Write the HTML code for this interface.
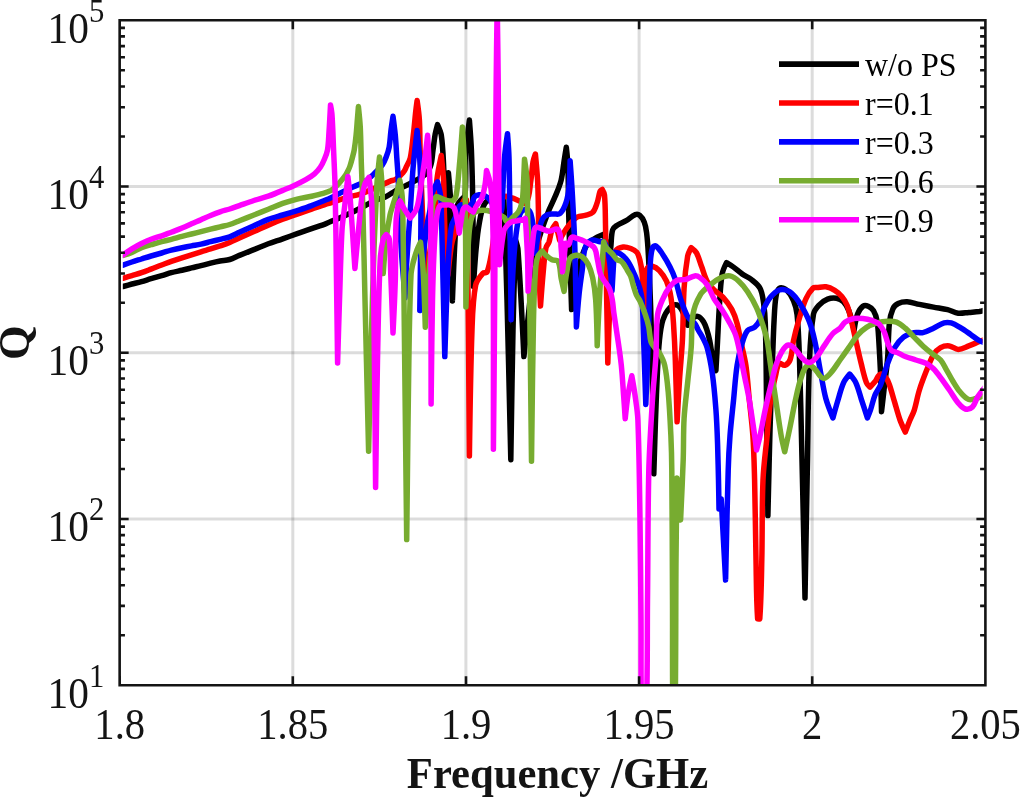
<!DOCTYPE html>
<html><head><meta charset="utf-8"><title>Q vs Frequency</title>
<style>
html,body{margin:0;padding:0;background:#fff;}
body{width:1020px;height:797px;overflow:hidden;}
svg{display:block;}
text{font-family:"Liberation Serif","Times New Roman",serif;}
</style></head><body>
<svg width="1020" height="797" viewBox="0 0 1020 797">
<rect x="0" y="0" width="1020" height="797" fill="#fff"/>
<defs><clipPath id="ax"><rect x="122.8" y="20.3" width="859.8" height="664.95"/></clipPath></defs>

<path d="M292.8,20.3 V685.25 M465.9,20.3 V685.25 M639.1,20.3 V685.25 M812.2,20.3 V685.25" stroke="#262626" stroke-opacity="0.16" stroke-width="3" fill="none"/>
<path d="M119.65,519.0 H985.4 M119.65,352.8 H985.4 M119.65,186.5 H985.4" stroke="#262626" stroke-opacity="0.16" stroke-width="3" fill="none"/>
<g clip-path="url(#ax)" fill="none" stroke-width="5.5" stroke-linejoin="round" stroke-linecap="round">
<path d="M123.0,286.5 C123.0,286.5 129.0,284.8 131.9,284.0 C135.1,283.2 138.4,282.5 141.5,281.6 C144.7,280.7 147.9,279.6 151.0,278.7 C154.5,277.7 158.2,276.7 161.7,275.7 C164.9,274.8 168.1,273.6 171.3,272.7 C174.8,271.8 178.5,271.1 182.0,270.3 C185.1,269.6 188.4,268.7 191.5,267.9 C194.6,267.1 197.9,266.4 201.0,265.6 C204.2,264.8 207.4,264.0 210.6,263.2 C213.7,262.4 216.9,261.6 220.1,261.0 C223.2,260.4 226.6,260.4 229.7,259.5 C233.0,258.5 236.2,256.7 239.4,255.4 C244.2,253.4 249.1,251.5 253.9,249.6 C258.7,247.7 263.5,245.6 268.3,243.8 C273.0,242.0 278.0,240.5 282.7,238.8 C287.5,237.1 292.4,235.4 297.2,233.7 C301.9,232.0 306.9,230.4 311.6,228.7 C316.4,227.0 321.4,225.4 326.1,223.6 C328.0,222.9 329.9,221.8 331.8,221.0 C334.5,219.9 337.4,218.9 340.1,217.7 C343.4,216.3 346.8,214.8 350.1,213.2 C354.1,211.3 358.2,209.2 362.2,207.2 C366.5,205.0 370.7,202.2 375.2,200.2 C378.4,198.8 382.1,198.6 385.3,197.1 C388.8,195.5 391.9,192.8 395.3,190.9 C400.2,188.2 405.4,186.0 410.3,183.3 C415.4,180.5 421.0,178.1 425.4,174.3 C428.0,172.0 429.8,168.6 430.8,165.3 C432.3,160.5 432.3,155.2 433.0,150.2 C433.8,144.9 434.3,139.3 435.2,134.0 C435.8,130.9 437.5,124.6 437.5,124.6 C437.5,124.6 440.7,131.5 441.3,135.2 C442.8,145.1 443.1,155.4 443.6,165.3 C444.1,175.2 444.0,185.5 444.3,195.4 C444.7,210.1 445.0,225.3 445.5,240.0 C445.6,243.3 446.3,250.0 446.3,250.0 C446.3,250.0 446.1,213.4 446.6,195.4 C446.8,187.9 448.4,172.8 448.4,172.8 C448.4,172.8 449.8,187.9 450.3,195.4 C450.6,200.2 451.0,205.2 451.1,210.0 C451.7,240.0 452.4,300.9 452.4,300.9 C452.4,300.9 453.9,260.1 455.0,240.0 C455.6,228.4 455.8,216.5 457.5,205.0 C457.8,203.0 459.8,201.6 461.0,200.0 C462.3,198.3 464.8,197.1 465.0,195.0 C466.5,180.3 465.2,165.0 466.1,150.2 C466.7,140.2 469.4,120.1 469.4,120.1 C469.4,120.1 471.0,140.3 471.4,150.2 C472.2,169.9 472.6,190.3 472.9,210.0 C473.3,235.3 473.4,286.6 473.4,286.6 C473.4,286.6 474.9,262.1 476.0,250.0 C476.8,241.7 477.5,233.2 479.0,225.0 C480.2,218.3 481.0,211.1 484.0,205.0 C485.5,201.8 488.8,199.4 492.0,198.0 C495.6,196.4 503.8,196.4 503.8,196.4 C503.8,196.4 506.1,265.8 507.0,300.0 C508.4,352.7 510.8,459.8 510.8,459.8 C510.8,459.8 512.1,372.8 513.0,330.0 C513.6,300.3 515.5,240.0 515.5,240.0 C515.5,240.0 517.8,246.6 518.0,250.0 C520.5,285.1 523.9,356.6 523.9,356.6 C523.9,356.6 527.9,318.7 530.0,300.0 C531.9,283.5 533.3,266.4 536.0,250.0 C537.0,243.9 539.1,237.9 541.0,232.0 C543.4,224.7 546.2,217.2 549.0,210.1 C550.8,205.6 553.3,201.1 555.1,196.6 C557.3,191.3 559.7,185.9 561.1,180.3 C562.7,174.0 563.1,167.2 564.1,160.8 C564.8,156.3 566.3,147.2 566.3,147.2 C566.3,147.2 567.7,159.3 567.9,165.3 C568.4,180.0 568.3,195.3 568.6,210.0 C569.0,226.5 569.5,243.5 570.0,260.0 C570.5,276.4 571.6,309.6 571.6,309.6 C571.6,309.6 574.1,289.7 576.0,280.0 C577.6,271.8 579.6,263.3 582.2,255.3 C583.6,251.1 585.4,246.6 588.2,243.2 C590.5,240.5 594.1,239.0 597.2,237.2 C599.2,236.0 603.7,234.2 603.7,234.2 C603.7,234.2 606.2,241.4 607.0,245.0 C608.2,250.6 609.5,262.0 609.5,262.0 C609.5,262.0 610.4,250.6 611.0,245.0 C611.5,239.9 611.2,234.5 612.7,229.7 C613.3,227.7 615.5,226.4 617.2,225.2 C620.0,223.4 623.3,222.4 626.2,220.7 C629.3,218.9 631.9,215.9 635.3,214.6 C636.7,214.1 638.6,214.4 639.8,215.4 C641.9,217.1 643.3,219.7 644.3,222.2 C645.6,225.5 646.2,229.2 646.6,232.7 C647.5,240.1 648.0,247.8 648.4,255.3 C649.3,272.0 650.0,289.2 650.6,305.9 C651.0,317.3 651.3,329.1 651.5,340.6 C652.1,366.8 652.5,393.8 653.0,420.0 C653.3,437.8 653.8,473.8 653.8,473.8 C653.8,473.8 654.9,437.8 655.5,420.0 C656.1,403.5 656.7,386.5 657.5,370.0 C658.0,360.3 658.4,350.3 659.4,340.6 C660.1,333.7 660.8,326.6 662.9,320.0 C664.3,315.5 666.8,311.0 670.0,307.6 C671.7,305.8 674.7,304.3 677.1,305.0 C679.7,305.8 681.2,308.8 682.4,311.2 C684.7,315.6 687.6,325.3 687.6,325.3 C687.6,325.3 690.7,320.1 692.9,318.2 C694.3,317.0 696.5,315.9 698.2,316.5 C700.5,317.3 702.2,319.7 703.5,321.8 C705.2,324.5 706.1,327.6 707.1,330.6 C708.2,333.8 709.0,337.3 709.7,340.6 C711.0,347.0 711.7,353.6 713.0,360.0 C713.7,363.6 715.9,370.6 715.9,370.6 C715.9,370.6 717.1,350.1 717.6,340.0 C718.2,328.7 718.6,317.1 719.4,305.9 C720.1,295.4 720.4,284.5 722.1,274.1 C722.8,270.1 726.5,262.6 726.5,262.6 C726.5,262.6 731.3,265.5 733.5,267.1 C736.5,269.3 739.3,272.0 742.4,274.1 C745.2,276.0 748.6,277.3 751.2,279.4 C754.4,282.0 758.1,284.6 760.0,288.2 C762.3,292.4 762.8,297.6 763.5,302.3 C764.5,309.2 765.1,316.5 765.3,323.5 C766.1,348.7 766.2,374.8 766.5,400.0 C767.0,438.1 767.9,515.6 767.9,515.6 C767.9,515.6 769.2,458.2 770.0,430.0 C770.7,406.9 771.6,383.1 772.5,360.0 C773.0,346.8 773.4,333.2 774.1,320.0 C774.5,312.4 774.7,304.6 775.9,297.1 C776.4,294.0 776.8,290.0 779.4,288.2 C781.4,286.9 784.7,288.4 786.5,290.0 C789.6,292.8 791.8,296.7 793.5,300.6 C795.4,305.0 796.6,309.9 797.1,314.7 C798.6,329.6 799.0,345.0 799.5,360.0 C800.6,393.0 801.2,427.0 802.0,460.0 C803.1,505.5 805.0,598.0 805.0,598.0 C805.0,598.0 806.6,505.5 807.5,460.0 C808.1,427.0 808.1,393.0 809.5,360.0 C810.1,344.8 811.0,329.1 813.5,314.1 C814.1,310.8 816.5,307.8 818.8,305.3 C821.2,302.7 824.3,300.4 827.6,299.1 C830.3,298.0 833.6,297.7 836.5,298.2 C839.1,298.6 841.7,300.0 843.5,301.8 C845.9,304.2 847.5,307.5 848.8,310.6 C850.4,314.5 851.3,318.8 852.4,322.9 C853.0,325.2 854.1,330.0 854.1,330.0 C854.1,330.0 855.7,319.1 857.6,314.1 C858.7,311.2 860.4,308.1 862.9,306.2 C864.3,305.2 866.6,305.5 868.2,306.2 C870.3,307.1 872.3,308.6 873.5,310.6 C875.4,313.8 876.5,317.6 877.1,321.2 C878.2,327.5 878.4,334.2 878.8,340.6 C879.5,352.2 880.2,364.2 880.6,375.9 C881.0,387.7 881.5,411.8 881.5,411.8 C881.5,411.8 883.2,397.2 884.0,390.0 C885.2,379.5 886.8,368.7 887.6,358.2 C888.5,346.6 888.2,334.5 889.4,322.9 C889.9,318.1 890.9,313.2 892.9,308.8 C893.9,306.5 896.0,304.6 898.2,303.5 C900.9,302.2 904.1,301.7 907.1,301.8 C911.2,302.0 915.3,303.6 919.4,304.4 C924.0,305.3 928.8,306.2 933.5,307.1 C938.2,308.0 943.0,308.6 947.6,309.7 C951.2,310.6 954.5,312.7 958.2,313.2 C961.7,313.6 965.3,312.7 968.8,312.4 C972.3,312.1 975.9,312.0 979.4,311.5 C981.6,311.1 986.0,309.7 986.0,309.7" stroke="#000000"/>
<path d="M123.0,278.3 C123.0,278.3 129.0,276.6 131.9,275.7 C135.1,274.7 138.4,273.8 141.5,272.7 C144.7,271.6 147.9,270.3 151.0,269.1 C154.5,267.8 158.2,266.3 161.7,265.0 C164.9,263.8 168.1,262.5 171.3,261.4 C174.8,260.2 178.5,259.0 182.0,257.8 C185.1,256.8 188.4,255.8 191.5,254.8 C194.6,253.8 197.9,252.8 201.0,251.8 C204.2,250.8 207.4,249.9 210.6,248.9 C213.7,247.9 217.0,246.9 220.1,245.9 C223.3,244.8 226.6,243.8 229.7,242.5 C233.0,241.2 236.2,239.5 239.4,238.1 C244.2,235.9 249.1,233.8 253.9,231.6 C258.7,229.5 263.5,227.1 268.3,225.1 C273.0,223.1 277.9,221.1 282.7,219.3 C287.4,217.5 292.4,215.9 297.2,214.2 C301.9,212.5 306.9,210.9 311.6,209.2 C316.4,207.5 321.3,205.7 326.1,204.1 C327.4,203.7 328.7,203.6 330.0,203.2 C333.4,202.1 336.7,200.8 340.1,199.7 C343.4,198.6 346.8,197.5 350.1,196.6 C353.4,195.7 356.9,195.2 360.2,194.1 C363.6,193.0 366.9,191.5 370.2,190.1 C373.5,188.7 376.9,187.1 380.2,185.6 C383.5,184.1 386.9,182.5 390.3,181.1 C391.9,180.5 393.8,180.4 395.3,179.5 C397.5,178.2 399.4,176.3 401.2,174.6 C402.3,173.5 403.4,172.3 404.3,171.0 C405.2,169.6 405.8,167.9 406.5,166.4 C407.8,163.6 409.6,160.8 410.3,157.8 C411.9,150.4 412.4,142.7 413.3,135.2 C414.2,127.8 414.8,120.1 415.6,112.6 C416.0,108.6 417.1,100.5 417.1,100.5 C417.1,100.5 419.0,113.6 419.4,120.1 C420.0,130.0 419.8,140.3 420.1,150.2 C420.8,169.9 421.6,190.3 422.4,210.0 C423.1,226.5 423.9,243.5 424.6,260.0 C425.0,269.9 426.0,290.0 426.0,290.0 C426.0,290.0 427.9,269.9 429.0,260.0 C430.2,248.4 431.5,236.5 433.0,225.0 C433.6,220.0 434.9,215.0 435.3,210.0 C436.1,200.2 435.7,190.1 436.8,180.3 C437.7,172.0 441.3,155.5 441.3,155.5 C441.3,155.5 443.1,172.1 443.6,180.3 C444.1,190.1 444.0,200.2 444.3,210.0 C444.8,226.5 445.1,243.5 446.0,260.0 C446.3,265.0 448.0,275.0 448.0,275.0 C448.0,275.0 449.9,254.8 451.5,245.0 C452.2,240.6 453.9,236.3 455.0,232.0 C456.4,226.4 457.4,220.5 459.0,215.0 C460.4,210.0 461.7,204.7 464.0,200.0 C464.4,199.3 466.4,199.2 466.5,200.0 C467.7,216.5 467.4,233.5 467.6,250.0 C468.4,318.0 469.4,456.0 469.4,456.0 C469.4,456.0 470.5,371.6 472.0,330.0 C472.5,315.1 472.8,299.6 475.7,285.0 C476.6,280.4 480.1,276.5 483.2,273.0 C484.0,272.0 486.5,273.5 487.0,272.3 C489.7,265.3 490.7,257.4 492.0,250.0 C494.0,238.5 494.5,226.4 497.0,215.0 C498.4,208.8 499.7,201.8 503.8,196.9 C505.4,195.0 508.9,196.9 511.3,197.6 C514.4,198.4 517.3,200.3 520.3,201.4 C522.3,202.1 525.5,204.8 526.4,202.9 C529.8,196.1 529.7,187.8 530.9,180.3 C531.9,174.3 532.0,168.0 533.0,162.0 C533.5,159.3 535.4,154.0 535.4,154.0 C535.4,154.0 537.1,171.6 537.6,180.3 C538.1,190.1 538.2,200.2 538.4,210.0 C538.7,229.8 538.6,250.2 539.0,270.0 C539.3,281.9 540.5,306.0 540.5,306.0 C540.5,306.0 542.3,281.9 543.4,270.0 C544.1,262.6 544.5,255.0 546.0,247.7 C546.4,245.6 548.3,244.1 549.0,242.1 C550.3,238.1 550.5,233.6 552.0,229.7 C552.8,227.5 555.8,223.7 555.8,223.7 C555.8,223.7 559.6,240.2 559.6,240.2 C559.6,240.2 563.4,233.0 565.6,229.7 C567.4,227.1 569.4,224.5 571.6,222.2 C573.4,220.3 575.2,218.1 577.6,216.9 C579.9,215.8 582.8,216.1 585.2,215.4 C587.8,214.6 590.9,214.3 592.7,212.4 C595.1,209.8 596.0,206.0 597.2,202.6 C598.5,198.9 598.8,194.7 600.2,191.0 C600.5,190.2 602.2,189.4 602.2,189.4 C602.2,189.4 604.3,193.0 604.5,195.0 C605.4,204.9 605.3,215.2 605.5,225.2 C605.8,240.1 606.0,255.4 606.2,270.3 C606.7,300.9 607.8,363.0 607.8,363.0 C607.8,363.0 609.1,320.8 610.0,300.0 C610.5,288.4 610.7,276.5 612.0,265.0 C612.6,260.2 613.1,254.9 615.7,250.8 C617.2,248.4 620.5,247.4 623.2,247.0 C625.7,246.6 628.4,247.6 630.8,248.5 C633.0,249.4 635.3,250.5 636.8,252.3 C638.5,254.4 639.1,257.2 639.8,259.8 C640.9,264.2 641.7,268.8 642.1,273.3 C642.9,282.1 642.9,291.2 643.5,300.0 C643.7,302.7 644.5,308.0 644.5,308.0 C644.5,308.0 644.9,289.2 645.5,280.0 C645.8,276.0 645.5,271.6 647.3,268.0 C648.1,266.4 650.7,265.8 652.4,266.2 C655.1,266.8 657.5,268.6 659.4,270.6 C662.3,273.7 664.8,277.3 666.5,281.2 C668.7,286.2 670.0,291.7 670.9,297.1 C672.3,305.7 672.9,314.8 673.5,323.5 C674.3,335.5 674.9,347.9 675.3,360.0 C676.0,380.4 677.1,421.8 677.1,421.8 C677.1,421.8 678.6,393.8 679.5,380.0 C680.3,367.0 681.7,353.6 682.4,340.6 C683.3,323.3 683.0,305.5 684.1,288.2 C684.7,277.7 685.8,266.9 687.6,256.5 C688.1,253.4 691.2,247.6 691.2,247.6 C691.2,247.6 695.3,250.7 696.5,252.9 C698.9,257.3 700.0,262.4 701.8,267.1 C703.5,271.8 704.7,276.8 707.1,281.2 C708.9,284.5 711.5,287.4 714.1,290.0 C716.7,292.6 720.4,294.3 722.9,297.1 C726.3,300.8 729.4,305.0 731.8,309.4 C734.2,313.8 735.8,318.7 737.1,323.5 C738.7,329.0 739.4,335.0 740.6,340.6 C742.3,348.8 744.7,357.1 745.9,365.3 C747.6,376.9 748.2,389.0 749.4,400.6 C750.6,412.2 752.1,424.2 752.9,435.9 C753.9,450.4 754.2,465.4 754.6,480.0 C755.3,506.4 755.4,533.6 756.0,560.0 C756.4,579.3 756.3,599.2 757.6,618.5 C757.6,619.2 759.7,619.2 759.8,618.5 C761.2,599.2 761.4,579.3 761.8,560.0 C762.4,533.6 761.9,506.4 763.0,480.0 C763.6,465.4 765.7,450.4 767.1,435.9 C768.2,424.2 768.9,412.2 770.6,400.6 C771.9,391.8 773.8,382.8 775.9,374.1 C776.8,370.5 776.8,366.1 779.4,363.5 C780.7,362.2 782.9,365.9 784.7,365.3 C787.0,364.5 789.2,362.3 790.0,360.0 C792.2,353.9 792.1,347.0 793.5,340.6 C795.0,333.7 796.8,326.7 798.8,320.0 C800.9,312.9 802.9,305.5 805.9,298.8 C807.6,295.0 809.9,291.2 812.9,288.2 C813.9,287.2 815.7,287.7 817.1,287.6 C820.0,287.3 823.0,286.4 825.9,286.8 C829.0,287.3 832.0,288.7 834.7,290.3 C837.4,291.9 839.8,294.1 841.8,296.5 C844.0,299.1 845.8,302.2 847.1,305.3 C848.7,309.2 849.6,313.5 850.6,317.6 C852.5,325.2 854.1,333.0 855.9,340.6 C857.6,348.2 859.3,356.0 861.2,363.5 C862.8,369.9 864.2,376.7 866.5,382.9 C867.1,384.6 870.0,387.1 870.0,387.1 C870.0,387.1 873.6,383.2 875.3,381.2 C877.1,378.9 877.8,375.0 880.6,374.1 C882.6,373.4 884.6,376.0 885.9,377.6 C887.6,379.6 888.5,382.2 889.4,384.7 C891.4,390.4 892.9,396.6 894.7,402.4 C896.4,408.2 898.0,414.3 900.0,420.0 C901.5,424.1 905.3,432.1 905.3,432.1 C905.3,432.1 908.4,424.0 910.0,420.0 C911.3,416.9 913.1,413.8 914.1,410.6 C916.2,403.9 917.3,396.7 919.4,390.0 C921.4,383.5 924.0,376.9 926.5,370.6 C928.6,365.3 930.5,359.6 933.5,354.7 C935.2,351.9 937.7,349.2 940.6,347.6 C943.2,346.2 946.5,345.6 949.4,345.9 C952.5,346.2 955.1,349.4 958.2,349.4 C961.9,349.4 965.3,347.2 968.8,345.9 C972.3,344.6 975.9,342.9 979.4,341.5 C981.6,340.6 986.0,339.0 986.0,339.0" stroke="#ff0000"/>
<path d="M123.0,265.2 C123.0,265.2 128.9,263.0 131.9,262.0 C135.0,260.9 138.3,260.0 141.5,259.0 C144.6,258.0 147.8,256.9 151.0,256.0 C154.5,255.0 158.2,254.0 161.7,253.0 C164.9,252.1 168.1,250.9 171.3,250.1 C174.8,249.2 178.5,248.4 182.0,247.7 C185.1,247.1 188.4,246.5 191.5,245.9 C194.6,245.3 197.9,244.8 201.0,244.1 C204.2,243.4 207.4,242.5 210.6,241.7 C213.7,240.9 217.0,240.1 220.1,239.3 C223.3,238.5 226.6,237.9 229.7,236.8 C233.0,235.6 236.2,233.8 239.4,232.3 C244.2,230.1 249.1,228.0 253.9,225.8 C258.7,223.7 263.4,221.1 268.3,219.3 C272.9,217.6 278.0,216.4 282.7,215.0 C287.5,213.6 292.4,212.1 297.2,210.6 C302.0,209.0 306.9,207.4 311.6,205.6 C316.4,203.8 321.3,201.7 326.1,199.8 C327.4,199.3 328.7,198.8 330.0,198.2 C333.4,196.6 336.8,194.8 340.1,193.1 C343.4,191.5 346.8,189.8 350.1,188.2 C355.0,185.9 360.5,184.2 365.1,181.4 C368.7,179.2 371.8,176.0 374.8,173.1 C377.5,170.5 380.2,167.8 382.4,164.8 C384.0,162.6 385.1,159.9 386.1,157.3 C387.4,154.0 388.6,150.5 389.2,147.0 C390.2,141.4 390.3,135.6 391.0,130.0 C391.6,125.5 393.0,116.3 393.0,116.3 C393.0,116.3 394.7,128.9 395.3,135.2 C396.0,142.6 396.3,150.3 396.8,157.8 C397.3,165.2 398.0,172.9 398.3,180.3 C398.7,190.1 398.5,200.2 399.0,210.0 C399.8,226.5 400.9,243.5 402.0,260.0 C402.9,272.5 405.1,297.9 405.1,297.9 C405.1,297.9 405.9,275.8 406.5,265.0 C407.6,246.8 409.1,228.2 410.3,210.0 C411.3,195.3 412.0,180.0 413.3,165.3 C414.3,153.8 417.1,130.6 417.1,130.6 C417.1,130.6 419.6,153.8 420.1,165.3 C420.8,180.0 420.8,195.2 420.9,210.0 C421.0,226.5 420.7,243.5 420.5,260.0 C420.3,276.7 419.8,310.5 419.8,310.5 C419.8,310.5 421.6,276.6 423.0,260.0 C424.0,248.4 425.4,236.5 427.0,225.0 C427.7,220.0 429.2,215.0 430.0,210.0 C430.7,205.2 430.3,200.1 431.5,195.4 C432.8,190.7 437.5,181.8 437.5,181.8 C437.5,181.8 439.9,190.8 440.5,195.4 C441.1,200.2 441.2,205.2 441.3,210.0 C442.0,233.1 442.4,256.9 443.0,280.0 C443.6,305.3 444.8,356.6 444.8,356.6 C444.8,356.6 446.1,312.0 447.0,290.0 C447.5,276.8 448.0,263.2 449.0,250.0 C449.6,241.8 450.1,233.2 451.7,225.1 C452.3,222.2 454.4,219.8 455.5,217.0 C456.7,213.8 457.0,210.0 458.6,207.0 C459.2,205.9 460.8,204.5 462.0,205.0 C464.0,205.8 466.0,210.0 466.0,210.0 C466.0,210.0 470.5,205.5 472.2,202.9 C473.4,201.1 473.1,198.5 474.5,196.9 C475.6,195.6 477.4,194.9 479.0,194.7 C480.9,194.5 483.0,195.0 484.7,195.8 C486.7,196.8 488.7,198.2 490.0,200.0 C492.8,203.7 493.9,208.6 497.0,212.0 C497.9,213.0 500.5,213.2 501.0,212.0 C502.6,208.4 502.0,204.0 502.3,200.0 C503.2,186.1 503.4,171.7 504.5,157.8 C505.1,149.8 507.5,133.7 507.5,133.7 C507.5,133.7 508.8,149.8 509.0,157.8 C509.5,175.0 509.6,192.8 509.8,210.0 C510.1,229.8 510.3,250.2 510.5,270.0 C510.7,286.4 511.1,319.7 511.1,319.7 C511.1,319.7 512.1,286.4 513.0,270.0 C513.7,258.4 514.6,246.5 516.0,235.0 C516.9,228.0 517.6,220.6 520.0,214.0 C520.8,211.8 523.1,210.0 525.3,209.4 C526.9,209.0 528.9,210.2 529.8,211.6 C531.3,213.9 531.6,216.8 532.1,219.5 C533.1,225.1 533.8,230.9 534.4,236.5 C535.0,242.1 535.5,253.4 535.5,253.4 C535.5,253.4 537.4,238.2 538.9,230.8 C539.7,227.0 540.6,223.0 542.3,219.5 C543.2,217.6 544.9,215.9 546.8,215.0 C548.8,214.0 551.3,214.2 553.6,213.9 C555.7,213.7 558.4,214.9 560.0,213.5 C563.0,210.7 564.7,206.5 566.0,202.6 C567.7,197.6 568.5,192.2 569.0,187.0 C569.8,178.4 570.1,160.8 570.1,160.8 C570.1,160.8 571.8,183.8 572.4,195.1 C573.2,210.0 574.1,225.3 574.6,240.2 C575.5,268.8 576.4,326.9 576.4,326.9 C576.4,326.9 577.9,305.5 579.0,295.0 C579.8,286.8 581.1,278.4 582.2,270.3 C583.2,262.8 583.0,254.9 585.2,247.7 C586.1,244.7 588.3,241.4 591.2,240.2 C594.0,239.1 597.2,241.3 600.2,241.7 C601.3,241.8 602.9,240.9 603.7,241.7 C605.3,243.2 606.1,245.6 606.7,247.7 C608.1,252.6 609.1,257.8 609.7,262.8 C610.8,272.1 612.0,291.0 612.0,291.0 C612.0,291.0 614.2,252.3 614.2,252.3 C614.2,252.3 618.5,252.7 620.2,253.8 C623.1,255.7 625.8,258.4 627.8,261.3 C630.9,265.9 633.0,271.3 635.3,276.4 C637.0,280.3 638.6,284.3 639.8,288.4 C640.9,292.1 641.8,296.1 642.1,300.0 C643.2,316.5 643.4,333.5 644.0,350.0 C644.6,368.0 645.8,404.5 645.8,404.5 C645.8,404.5 647.0,374.7 647.5,360.0 C648.0,346.8 648.4,333.2 648.8,320.0 C649.3,301.1 649.3,281.7 650.3,262.8 C650.6,257.8 651.0,252.5 652.6,247.7 C653.0,246.5 654.9,245.2 655.9,245.9 C659.0,248.0 660.8,251.6 662.9,254.7 C665.5,258.6 667.9,262.9 670.0,267.1 C672.0,271.0 673.9,275.2 675.3,279.4 C677.4,285.7 678.5,292.5 680.6,298.8 C682.6,304.8 684.5,311.0 687.6,316.5 C689.2,319.4 692.7,320.9 694.7,323.5 C696.2,325.4 697.0,327.9 698.2,330.0 C699.3,332.0 700.8,333.9 701.8,335.9 C703.7,339.7 706.0,343.5 707.1,347.6 C709.5,356.2 711.1,365.3 712.4,374.1 C714.1,385.7 715.0,397.7 715.9,409.4 C716.8,421.0 717.2,433.0 717.6,444.7 C718.0,456.3 718.2,468.3 718.5,480.0 C718.7,489.6 719.0,509.0 719.0,509.0 C719.0,509.0 721.2,499.0 721.2,499.0 C721.2,499.0 725.6,580.0 725.6,580.0 C725.6,580.0 727.1,506.7 728.2,470.6 C728.5,459.1 729.1,447.3 730.0,435.9 C730.9,424.2 732.3,412.2 733.5,400.6 C734.7,388.9 735.3,376.9 737.1,365.3 C738.3,357.6 740.2,349.8 742.4,342.4 C743.6,338.3 744.9,333.9 747.6,330.6 C749.2,328.6 752.7,328.8 754.7,327.1 C756.9,325.2 758.7,322.6 760.0,320.0 C761.6,316.7 762.0,312.7 763.5,309.4 C765.5,305.1 767.6,300.7 770.6,297.1 C773.0,294.2 775.9,291.2 779.4,290.0 C782.2,289.0 785.5,289.7 788.2,290.9 C791.0,292.2 793.3,294.7 795.3,297.1 C798.0,300.3 800.3,304.0 802.4,307.6 C805.0,312.1 807.6,316.9 809.4,321.8 C811.7,327.8 813.3,334.3 814.7,340.6 C817.0,351.0 818.6,361.9 820.6,372.4 C822.3,381.1 823.6,390.2 825.9,398.8 C827.7,405.3 832.9,417.9 832.9,417.9 C832.9,417.9 836.2,405.9 838.0,400.0 C839.7,394.3 841.1,388.3 843.5,382.9 C845.0,379.7 849.7,374.1 849.7,374.1 C849.7,374.1 854.4,379.7 855.9,382.9 C858.2,387.9 859.5,393.5 861.2,398.8 C863.3,405.1 867.4,417.9 867.4,417.9 C867.4,417.9 869.6,412.7 870.5,410.0 C872.1,405.1 873.1,399.8 875.0,395.0 C876.4,391.4 879.2,388.3 880.6,384.7 C883.3,377.9 885.0,370.4 887.6,363.5 C889.6,358.1 891.7,352.5 894.7,347.6 C897.0,343.7 899.9,339.9 903.5,337.1 C906.5,334.8 910.4,333.5 914.1,332.6 C916.9,331.9 920.1,333.2 922.9,332.6 C926.6,331.8 930.1,329.8 933.5,328.2 C937.1,326.6 940.4,324.0 944.1,322.9 C946.3,322.2 948.9,322.3 951.2,322.9 C954.3,323.8 957.2,325.7 960.0,327.4 C963.6,329.5 967.1,332.0 970.6,334.4 C973.5,336.4 976.3,338.9 979.4,340.6 C981.4,341.7 986.0,343.0 986.0,343.0" stroke="#0000ff"/>
<path d="M123.0,255.5 C123.0,255.5 129.0,253.6 131.9,252.4 C135.2,251.0 138.2,249.0 141.5,247.7 C144.5,246.5 147.8,245.6 151.0,244.7 C154.5,243.7 158.2,242.6 161.7,241.7 C164.9,240.9 168.1,240.1 171.3,239.3 C174.8,238.4 178.5,237.3 182.0,236.4 C185.1,235.6 188.4,234.8 191.5,234.0 C194.6,233.2 197.9,232.4 201.0,231.6 C204.2,230.8 207.4,230.0 210.6,229.2 C213.7,228.4 217.0,227.6 220.1,226.8 C223.3,226.0 226.6,225.5 229.7,224.5 C233.0,223.5 236.2,222.0 239.4,220.7 C244.2,218.8 249.1,216.9 253.9,215.0 C258.7,213.1 263.5,211.1 268.3,209.2 C273.1,207.3 277.9,205.1 282.7,203.4 C287.4,201.8 292.4,200.3 297.2,199.1 C301.9,197.9 306.9,197.3 311.6,196.2 C315.5,195.3 319.4,194.4 323.2,193.3 C325.9,192.5 328.6,191.7 331.1,190.4 C332.9,189.4 334.5,187.9 336.0,186.5 C337.5,185.2 338.8,183.6 340.1,182.1 C342.0,179.8 343.9,177.4 345.6,175.0 C346.6,173.6 347.4,172.0 348.1,170.5 C348.8,169.1 349.5,167.5 350.0,166.0 C350.9,163.2 351.7,160.3 352.4,157.5 C353.0,155.0 353.8,152.5 354.2,150.0 C355.0,145.1 355.6,140.0 356.1,135.0 C356.7,129.4 357.0,123.6 357.5,118.0 C357.8,114.2 358.4,106.6 358.4,106.6 C358.4,106.6 359.9,120.7 360.3,127.6 C360.9,140.0 361.0,152.9 361.4,165.3 C361.9,180.1 362.5,195.2 362.9,210.0 C363.7,239.7 364.3,270.3 365.0,300.0 C366.2,349.9 368.6,451.2 368.6,451.2 C368.6,451.2 370.1,383.4 371.0,350.0 C371.9,317.0 372.9,283.0 374.0,250.0 C374.4,236.8 375.1,223.2 375.7,210.0 C376.2,200.2 376.5,190.1 377.2,180.3 C377.8,172.6 379.5,157.0 379.5,157.0 C379.5,157.0 381.3,172.6 381.7,180.3 C382.3,190.1 382.3,200.2 382.5,210.0 C382.8,231.0 383.2,273.6 383.2,273.6 C383.2,273.6 384.7,251.1 386.0,240.0 C387.0,231.7 388.4,223.2 390.0,215.0 C390.5,212.3 391.5,209.6 392.3,207.0 C393.8,202.2 395.4,197.3 396.8,192.4 C397.9,188.4 399.8,180.3 399.8,180.3 C399.8,180.3 401.6,190.4 402.1,195.4 C402.6,200.2 402.7,205.2 402.8,210.0 C403.3,239.7 403.6,270.3 404.0,300.0 C404.9,379.1 406.7,539.6 406.7,539.6 C406.7,539.6 408.0,412.6 409.0,350.0 C409.4,325.2 409.8,299.7 411.0,275.0 C411.2,270.6 412.3,266.2 413.3,262.0 C414.3,258.0 415.6,253.9 417.0,250.0 C418.0,247.3 420.5,242.2 420.5,242.2 C420.5,242.2 422.6,260.8 423.1,270.0 C424.2,288.9 425.3,327.2 425.3,327.2 C425.3,327.2 427.4,295.6 428.5,280.0 C429.4,266.8 430.8,253.2 431.5,240.0 C432.1,228.5 431.4,216.5 432.6,205.0 C432.9,202.1 434.2,199.3 435.9,196.9 C436.3,196.3 437.5,196.8 438.2,197.0 C440.5,197.8 442.7,199.3 445.1,199.9 C447.5,200.5 450.3,201.7 452.6,200.7 C454.6,199.8 455.8,197.2 456.2,195.0 C458.1,185.3 458.5,175.1 459.4,165.3 C460.6,152.6 462.4,126.9 462.4,126.9 C462.4,126.9 464.1,152.6 464.6,165.3 C465.1,180.0 465.3,195.2 465.4,210.0 C465.7,242.0 465.9,306.9 465.9,306.9 C465.9,306.9 467.1,268.8 468.0,250.0 C468.4,241.8 468.8,233.3 470.0,225.2 C470.6,221.3 471.4,217.2 473.4,213.9 C474.5,212.1 476.9,211.0 479.0,210.5 C481.5,209.9 484.3,210.1 486.9,210.5 C489.7,210.9 492.4,212.0 495.0,213.0 C498.0,214.2 501.2,215.4 503.9,217.3 C505.4,218.4 505.4,221.8 507.3,221.8 C509.7,221.8 511.1,218.9 512.9,217.3 C514.9,215.5 517.2,213.9 518.6,211.6 C520.3,208.9 521.2,205.7 521.9,202.6 C522.7,198.9 522.9,195.0 523.1,191.3 C523.7,180.7 524.5,159.3 524.5,159.3 C524.5,159.3 526.7,173.3 527.1,180.3 C527.7,191.4 527.3,202.8 527.6,213.9 C527.8,223.2 528.4,232.8 528.7,242.1 C529.0,251.3 529.2,260.8 529.3,270.0 C530.1,333.1 531.5,461.3 531.5,461.3 C531.5,461.3 532.5,366.6 533.5,320.0 C533.8,303.5 534.4,286.5 535.5,270.0 C535.8,265.6 536.2,261.0 537.7,256.8 C538.5,254.5 542.3,251.1 542.3,251.1 C542.3,251.1 544.6,254.1 546.0,255.3 C547.8,257.0 549.8,258.7 552.0,259.8 C553.9,260.7 557.2,259.4 558.1,261.3 C560.6,266.3 560.0,272.4 561.1,277.9 C562.0,282.4 564.1,291.4 564.1,291.4 C564.1,291.4 565.8,277.2 567.1,270.3 C567.8,266.3 568.0,261.8 570.1,258.3 C571.2,256.4 573.9,255.6 576.1,255.3 C578.2,255.0 580.5,255.6 582.2,256.8 C584.7,258.7 586.8,261.5 588.2,264.3 C590.3,268.5 591.7,273.3 592.7,277.9 C594.2,285.1 595.2,292.7 595.7,300.0 C596.7,315.1 597.2,345.7 597.2,345.7 C597.2,345.7 599.0,305.3 600.2,285.4 C600.7,277.7 601.6,269.7 602.2,262.0 C602.7,255.3 603.7,241.7 603.7,241.7 C603.7,241.7 605.0,246.0 606.2,247.7 C607.8,250.0 610.4,251.7 612.3,253.8 C614.0,255.7 615.2,258.2 617.2,259.8 C618.3,260.7 620.2,260.4 621.3,261.3 C622.8,262.5 623.7,264.3 624.7,265.8 C625.7,267.2 626.4,268.8 627.3,270.3 C628.5,272.3 629.9,274.2 630.8,276.4 C631.9,279.3 632.4,282.4 633.3,285.4 C634.3,288.6 635.1,291.9 636.4,295.0 C637.3,297.1 639.0,298.9 640.0,301.0 C642.0,305.4 643.8,310.1 645.3,314.7 C646.7,318.7 647.9,322.9 648.8,327.1 C649.8,332.0 649.6,337.2 651.0,342.0 C651.7,344.3 653.5,346.1 655.0,348.0 C656.3,349.7 658.3,351.0 659.4,352.9 C661.6,356.8 663.7,361.0 664.7,365.3 C666.6,373.9 667.4,383.0 668.2,391.8 C669.5,406.3 670.2,421.3 670.9,435.9 C671.4,447.3 671.7,459.1 671.8,470.6 C672.2,513.3 672.3,557.3 672.5,600.0 C672.7,639.6 672.2,680.4 673.0,720.0 C673.0,720.7 675.0,720.7 675.0,720.0 C676.0,667.2 675.6,612.8 676.0,560.0 C676.2,532.9 677.0,478.0 677.0,478.0 C677.0,478.0 680.6,520.0 680.6,520.0 C680.6,520.0 682.5,479.8 683.2,460.0 C683.7,446.2 683.3,432.0 684.1,418.2 C684.8,406.5 686.4,394.5 687.6,382.9 C688.8,371.2 690.3,359.3 691.2,347.6 C692.0,336.8 691.1,325.4 692.9,314.7 C694.0,308.0 696.5,301.2 700.0,295.3 C702.5,291.0 706.8,287.9 710.6,284.7 C713.8,282.0 717.4,279.3 721.2,277.6 C723.9,276.4 727.1,275.3 730.0,275.9 C733.3,276.6 736.3,278.9 738.8,281.2 C742.2,284.2 745.1,288.0 747.6,291.8 C750.9,296.8 754.0,302.1 756.5,307.6 C759.3,313.8 761.4,320.6 763.5,327.1 C764.9,331.5 766.3,336.1 767.1,340.6 C768.6,348.7 769.4,357.2 770.6,365.3 C772.3,377.0 774.2,389.0 775.9,400.6 C777.6,412.2 779.2,424.3 781.2,435.9 C782.1,441.2 784.7,451.8 784.7,451.8 C784.7,451.8 788.3,435.3 790.0,427.1 C791.8,418.4 793.4,409.3 795.3,400.6 C796.9,393.6 798.2,386.2 800.6,379.4 C802.3,374.5 803.4,368.4 807.6,365.3 C809.7,363.7 812.7,367.1 814.7,368.8 C816.9,370.7 818.0,373.8 820.0,375.9 C821.1,377.1 822.6,379.0 824.1,378.5 C827.0,377.6 829.2,374.7 831.2,372.4 C834.5,368.6 837.1,364.1 840.0,360.0 C842.9,355.9 845.9,351.7 848.8,347.6 C851.7,343.5 854.3,339.1 857.6,335.3 C860.2,332.3 863.2,329.5 866.5,327.4 C869.7,325.4 873.5,324.0 877.1,322.9 C880.5,321.9 884.1,321.3 887.6,321.2 C890.5,321.1 893.8,321.0 896.5,322.1 C899.8,323.4 902.6,325.9 905.3,328.2 C908.4,330.9 911.2,334.2 914.1,337.1 C917.0,340.0 919.9,343.1 922.9,345.9 C926.3,349.0 929.9,351.9 933.5,354.7 C935.8,356.5 938.7,357.8 940.6,360.0 C942.8,362.5 944.2,365.9 945.9,368.8 C948.3,372.9 950.4,377.2 952.9,381.2 C955.1,384.8 957.2,388.6 960.0,391.8 C962.5,394.7 965.2,398.2 968.8,399.5 C971.6,400.5 974.8,398.7 977.6,398.0 C980.4,397.3 986.0,395.0 986.0,395.0" stroke="#77ac30"/>
<path d="M123.0,255.0 C123.0,255.0 128.9,250.8 131.9,248.9 C135.0,247.0 138.3,245.1 141.5,243.5 C144.6,242.0 147.8,240.5 151.0,239.3 C154.5,238.0 158.2,237.0 161.7,235.8 C164.9,234.7 168.1,233.4 171.3,232.2 C174.8,230.8 178.5,229.5 182.0,228.0 C185.2,226.7 188.4,225.2 191.5,223.8 C194.6,222.4 197.9,221.1 201.0,219.7 C204.2,218.3 207.4,216.8 210.6,215.5 C213.7,214.2 216.9,212.9 220.1,211.8 C223.2,210.7 226.6,210.0 229.7,209.0 C232.9,208.0 236.2,206.7 239.4,205.6 C244.2,203.9 249.1,202.1 253.9,200.5 C258.6,199.0 263.6,197.8 268.3,196.2 C273.1,194.5 278.0,192.4 282.7,190.4 C286.5,188.8 290.5,187.2 294.3,185.4 C298.2,183.6 302.1,181.7 305.8,179.6 C308.8,177.9 311.9,176.0 314.5,173.8 C316.7,171.9 318.7,169.7 320.3,167.3 C322.1,164.7 323.4,161.6 324.6,158.7 C325.8,155.9 327.0,153.0 327.5,150.0 C328.5,144.1 328.6,137.9 329.0,132.0 C329.6,123.1 330.5,105.1 330.5,105.1 C330.5,105.1 331.8,111.7 332.0,115.0 C332.8,126.6 333.1,138.6 333.6,150.2 C334.1,162.6 334.8,175.5 335.1,187.9 C335.8,218.3 336.1,249.6 336.5,280.0 C336.9,307.4 337.6,363.0 337.6,363.0 C337.6,363.0 338.8,320.8 339.5,300.0 C340.3,276.9 340.7,253.1 342.0,230.0 C342.5,221.7 343.9,213.3 344.8,205.0 C345.8,195.6 347.9,176.6 347.9,176.6 C347.9,176.6 349.7,192.3 350.3,200.0 C352.0,222.6 354.9,268.5 354.9,268.5 C354.9,268.5 358.7,227.6 360.7,207.5 C361.1,203.5 361.5,199.4 362.2,195.4 C363.0,191.4 363.8,187.2 365.2,183.3 C366.0,181.1 368.9,177.3 368.9,177.3 C368.9,177.3 370.6,189.4 371.2,195.4 C371.7,200.2 371.9,205.2 372.0,210.0 C372.8,246.3 373.5,283.7 374.0,320.0 C374.7,375.2 375.6,487.4 375.6,487.4 C375.6,487.4 376.6,402.0 377.5,360.0 C378.2,327.1 378.6,293.1 380.2,260.2 C380.5,253.2 381.6,245.9 383.2,239.1 C383.6,237.4 386.2,234.6 386.2,234.6 C386.2,234.6 389.1,237.3 389.3,239.1 C390.6,251.0 390.3,263.4 390.8,275.3 C391.6,294.3 393.0,333.0 393.0,333.0 C393.0,333.0 394.8,297.5 395.3,280.0 C395.8,261.1 395.2,241.5 396.0,222.6 C396.2,216.6 397.2,210.4 398.3,204.5 C398.5,203.2 400.0,201.0 400.0,201.0 C400.0,201.0 402.8,206.4 404.3,209.0 C406.2,212.1 410.3,218.1 410.3,218.1 C410.3,218.1 415.1,212.4 416.4,209.0 C418.1,204.7 418.6,199.9 419.4,195.4 C421.1,185.5 422.5,175.3 423.9,165.3 C425.3,155.4 427.6,135.2 427.6,135.2 C427.6,135.2 428.8,155.4 429.2,165.3 C429.8,180.0 430.5,195.2 430.7,210.0 C431.1,239.7 430.9,270.3 431.0,300.0 C431.1,334.3 431.1,403.9 431.1,403.9 C431.1,403.9 431.8,334.3 432.5,300.0 C432.9,281.8 433.4,263.1 434.4,245.0 C434.9,235.1 435.6,224.8 437.0,215.0 C437.5,211.8 438.1,208.1 440.2,205.6 C441.3,204.3 443.5,205.2 445.2,205.1 C446.8,205.0 448.6,204.6 450.2,205.1 C451.8,205.6 453.5,206.6 454.2,208.1 C455.9,211.8 456.4,216.1 457.2,220.1 C458.1,224.4 459.2,233.2 459.2,233.2 C459.2,233.2 460.5,224.4 461.2,220.1 C461.8,216.5 462.0,212.5 463.3,209.1 C463.7,208.0 465.1,206.9 466.3,207.1 C467.9,207.3 468.9,209.2 470.3,210.1 C471.3,210.8 473.3,212.0 473.3,212.0 C473.3,212.0 475.1,208.0 476.3,206.1 C477.8,203.7 480.2,201.8 481.3,199.2 C483.0,195.3 483.9,191.0 484.7,186.8 C485.7,181.5 486.5,170.5 486.5,170.5 C486.5,170.5 488.8,177.0 489.5,180.3 C490.5,185.2 491.4,190.4 491.7,195.4 C492.7,213.4 493.1,232.0 493.2,250.0 C493.6,315.8 493.4,449.3 493.4,449.3 C493.4,449.3 494.1,382.8 494.3,350.0 C494.7,300.5 495.0,249.5 495.3,200.0 C495.6,160.4 495.8,119.6 496.2,80.0 C496.4,55.2 497.2,5.0 497.2,5.0 C497.2,5.0 498.0,55.2 498.2,80.0 C498.5,119.6 498.6,160.4 498.9,200.0 C499.1,221.4 499.6,264.7 499.6,264.7 C499.6,264.7 501.7,241.9 503.9,230.8 C504.3,228.7 505.9,226.8 507.3,225.2 C508.5,223.8 510.1,222.6 511.8,221.8 C513.5,221.0 515.5,221.0 517.4,220.7 C519.6,220.3 522.0,220.1 524.2,219.5 C524.7,219.4 525.3,218.4 525.3,218.4 C525.3,218.4 526.2,230.5 526.5,236.5 C526.9,243.9 527.4,251.6 527.6,259.0 C527.9,269.6 528.1,291.1 528.1,291.1 C528.1,291.1 531.1,254.5 533.2,236.5 C533.6,233.4 533.6,229.8 535.5,227.4 C536.4,226.2 538.6,227.6 540.0,228.0 C543.0,228.9 545.9,230.9 549.0,231.2 C552.0,231.5 556.3,227.2 558.1,229.7 C561.7,234.6 560.5,241.7 561.1,247.7 C561.9,255.6 562.5,271.8 562.5,271.8 C562.5,271.8 565.6,243.2 565.6,243.2 C565.6,243.2 567.8,245.5 568.6,244.7 C570.5,242.8 569.4,238.7 571.6,237.2 C573.3,236.1 575.7,238.1 577.6,238.7 C580.2,239.5 582.8,240.4 585.2,241.7 C588.3,243.4 592.1,244.8 594.2,247.7 C596.3,250.6 596.4,254.8 597.2,258.3 C598.4,263.2 598.8,268.4 600.2,273.3 C600.8,275.5 602.0,277.5 603.2,279.4 C605.1,282.5 607.9,285.1 609.3,288.4 C610.9,292.0 611.6,296.1 612.3,300.0 C613.1,304.1 613.2,308.5 613.8,312.6 C615.2,322.5 616.9,332.8 618.3,342.7 C619.4,350.1 620.5,357.8 621.3,365.3 C622.3,375.2 622.9,385.5 623.6,395.4 C624.2,403.1 625.2,418.8 625.2,418.8 C625.2,418.8 626.8,402.8 628.0,395.0 C629.0,388.6 631.8,375.8 631.8,375.8 C631.8,375.8 634.1,388.6 635.0,395.0 C636.1,403.2 637.6,411.7 637.9,420.0 C639.2,453.0 639.5,487.0 640.0,520.0 C640.5,553.0 640.7,587.0 641.0,620.0 C641.3,653.0 640.4,687.0 642.0,720.0 C642.1,721.3 645.9,721.3 646.0,720.0 C647.8,680.4 647.1,639.6 647.5,600.0 C648.0,557.3 647.8,513.3 648.8,470.6 C649.4,447.5 651.0,423.7 652.4,400.6 C653.3,386.0 655.0,371.1 655.9,356.5 C656.7,342.7 655.9,328.4 657.6,314.7 C658.3,309.2 660.7,303.9 662.9,298.8 C664.8,294.5 667.1,290.2 670.0,286.5 C671.9,284.0 674.3,281.6 677.1,280.3 C679.8,279.1 683.1,280.1 685.9,279.4 C688.9,278.6 691.6,276.3 694.7,275.9 C696.5,275.7 698.5,276.5 700.0,277.6 C702.7,279.5 705.3,281.9 707.1,284.7 C710.0,289.0 711.4,294.3 714.1,298.8 C716.7,303.1 720.2,307.0 722.9,311.2 C725.4,315.1 727.8,319.4 730.0,323.5 C731.9,326.9 734.0,330.4 735.3,334.1 C736.9,338.4 737.8,343.1 738.8,347.6 C740.7,356.3 742.4,365.4 744.1,374.1 C745.8,382.8 747.9,391.8 749.4,400.6 C751.4,412.2 753.0,424.2 754.7,435.9 C755.4,440.5 756.5,450.0 756.5,450.0 C756.5,450.0 759.0,440.6 760.0,435.9 C761.9,427.2 763.4,418.1 765.3,409.4 C766.9,401.8 768.8,394.0 770.6,386.5 C772.3,379.5 773.7,372.2 775.9,365.3 C777.2,361.1 778.9,356.7 781.2,352.9 C783.0,349.9 784.8,345.8 788.2,345.0 C790.9,344.3 793.3,347.5 795.3,349.4 C798.0,351.9 799.7,355.6 802.4,358.2 C804.4,360.1 806.7,362.9 809.4,362.6 C812.6,362.2 815.0,358.9 817.1,356.5 C819.9,353.4 821.7,349.4 824.1,345.9 C826.9,341.8 829.5,337.2 832.9,333.5 C834.9,331.3 837.8,330.2 840.0,328.2 C842.0,326.4 843.1,323.6 845.3,322.1 C847.9,320.3 851.0,319.1 854.1,318.5 C856.9,317.9 860.0,318.2 862.9,318.5 C865.9,318.8 869.0,319.4 871.8,320.3 C874.3,321.1 876.9,322.0 878.8,323.8 C881.1,326.0 882.7,328.9 884.1,331.8 C885.7,335.1 886.3,339.0 887.6,342.4 C888.6,345.1 889.2,348.3 891.2,350.3 C893.0,352.0 895.9,351.9 898.2,352.9 C900.6,354.0 902.9,355.5 905.3,356.5 C908.7,357.9 912.4,358.8 915.9,360.0 C919.4,361.2 923.2,361.9 926.5,363.5 C929.1,364.8 931.5,366.8 933.5,368.8 C936.1,371.4 938.4,374.6 940.6,377.6 C943.6,381.6 946.5,385.9 949.4,390.0 C952.4,394.3 954.9,399.0 958.2,403.0 C960.2,405.4 962.3,408.2 965.3,409.0 C967.6,409.7 970.7,408.7 972.4,407.0 C975.1,404.4 975.6,400.2 977.6,397.1 C980.1,393.2 986.0,386.0 986.0,386.0" stroke="#ff00ff"/>
</g>
<path d="M119.65,20.3 H985.4 V685.25 H119.65 Z M119.7,685.25 v-9 M119.7,20.3 v9 M292.8,685.25 v-9 M292.8,20.3 v9 M466.0,685.25 v-9 M466.0,20.3 v9 M639.1,685.25 v-9 M639.1,20.3 v9 M812.2,685.25 v-9 M812.2,20.3 v9 M985.4,685.25 v-9 M985.4,20.3 v9 M119.65,685.2 h9 M985.4,685.2 h-9 M119.65,519.0 h9 M985.4,519.0 h-9 M119.65,352.8 h9 M985.4,352.8 h-9 M119.65,186.5 h9 M985.4,186.5 h-9 M119.65,20.3 h9 M985.4,20.3 h-9 M119.65,635.2 h5.3 M985.4,635.2 h-5.3 M119.65,605.9 h5.3 M985.4,605.9 h-5.3 M119.65,585.2 h5.3 M985.4,585.2 h-5.3 M119.65,569.1 h5.3 M985.4,569.1 h-5.3 M119.65,555.9 h5.3 M985.4,555.9 h-5.3 M119.65,544.8 h5.3 M985.4,544.8 h-5.3 M119.65,535.1 h5.3 M985.4,535.1 h-5.3 M119.65,526.6 h5.3 M985.4,526.6 h-5.3 M119.65,469.0 h5.3 M985.4,469.0 h-5.3 M119.65,439.7 h5.3 M985.4,439.7 h-5.3 M119.65,418.9 h5.3 M985.4,418.9 h-5.3 M119.65,402.8 h5.3 M985.4,402.8 h-5.3 M119.65,389.7 h5.3 M985.4,389.7 h-5.3 M119.65,378.5 h5.3 M985.4,378.5 h-5.3 M119.65,368.9 h5.3 M985.4,368.9 h-5.3 M119.65,360.4 h5.3 M985.4,360.4 h-5.3 M119.65,302.7 h5.3 M985.4,302.7 h-5.3 M119.65,273.5 h5.3 M985.4,273.5 h-5.3 M119.65,252.7 h5.3 M985.4,252.7 h-5.3 M119.65,236.6 h5.3 M985.4,236.6 h-5.3 M119.65,223.4 h5.3 M985.4,223.4 h-5.3 M119.65,212.3 h5.3 M985.4,212.3 h-5.3 M119.65,202.6 h5.3 M985.4,202.6 h-5.3 M119.65,194.1 h5.3 M985.4,194.1 h-5.3 M119.65,136.5 h5.3 M985.4,136.5 h-5.3 M119.65,107.2 h5.3 M985.4,107.2 h-5.3 M119.65,86.5 h5.3 M985.4,86.5 h-5.3 M119.65,70.3 h5.3 M985.4,70.3 h-5.3 M119.65,57.2 h5.3 M985.4,57.2 h-5.3 M119.65,46.1 h5.3 M985.4,46.1 h-5.3 M119.65,36.4 h5.3 M985.4,36.4 h-5.3 M119.65,27.9 h5.3 M985.4,27.9 h-5.3" stroke="#141414" stroke-width="2.6" fill="none"/>
<g fill="#141414" font-size="44.5">
<text transform="translate(119.7,739.3) scale(0.912,1)" text-anchor="middle">1.8</text>
<text transform="translate(292.8,739.3) scale(0.912,1)" text-anchor="middle">1.85</text>
<text transform="translate(466.0,739.3) scale(0.912,1)" text-anchor="middle">1.9</text>
<text transform="translate(639.1,739.3) scale(0.912,1)" text-anchor="middle">1.95</text>
<text transform="translate(812.2,739.3) scale(0.912,1)" text-anchor="middle">2</text>
<text transform="translate(985.4,739.3) scale(0.912,1)" text-anchor="middle">2.05</text>
<text transform="translate(47.5,707.6) scale(0.93,1.0)">10<tspan font-size="33" dy="-21">1</tspan></text>
<text transform="translate(47.5,541.4) scale(0.93,1.0)">10<tspan font-size="33" dy="-21">2</tspan></text>
<text transform="translate(47.5,375.2) scale(0.93,1.0)">10<tspan font-size="33" dy="-21">3</tspan></text>
<text transform="translate(47.5,208.9) scale(0.93,1.0)">10<tspan font-size="33" dy="-21">4</tspan></text>
<text transform="translate(47.5,42.7) scale(0.93,1.0)">10<tspan font-size="33" dy="-21">5</tspan></text>
</g>
<text transform="translate(557.5,788.4) scale(0.97,1)" text-anchor="middle" font-size="44" font-weight="bold" fill="#141414">Frequency /GHz</text>
<text transform="translate(29.3,342.8) rotate(-90)" text-anchor="middle" font-size="44.5" font-weight="bold" fill="#141414">Q</text>
<g>
<line x1="779" y1="64.1" x2="859" y2="64.1" stroke="#000000" stroke-width="5.6"/>
<text transform="translate(865,75.9) scale(0.97,1)" font-size="33" fill="#000">w/o PS</text>
<line x1="779" y1="103.0" x2="859" y2="103.0" stroke="#ff0000" stroke-width="5.6"/>
<text transform="translate(865,114.8) scale(0.97,1)" font-size="33" fill="#000">r=0.1</text>
<line x1="779" y1="141.9" x2="859" y2="141.9" stroke="#0000ff" stroke-width="5.6"/>
<text transform="translate(865,153.7) scale(0.97,1)" font-size="33" fill="#000">r=0.3</text>
<line x1="779" y1="180.8" x2="859" y2="180.8" stroke="#77ac30" stroke-width="5.6"/>
<text transform="translate(865,192.6) scale(0.97,1)" font-size="33" fill="#000">r=0.6</text>
<line x1="779" y1="219.7" x2="859" y2="219.7" stroke="#ff00ff" stroke-width="5.6"/>
<text transform="translate(865,231.5) scale(0.97,1)" font-size="33" fill="#000">r=0.9</text>
</g>
</svg></body></html>
